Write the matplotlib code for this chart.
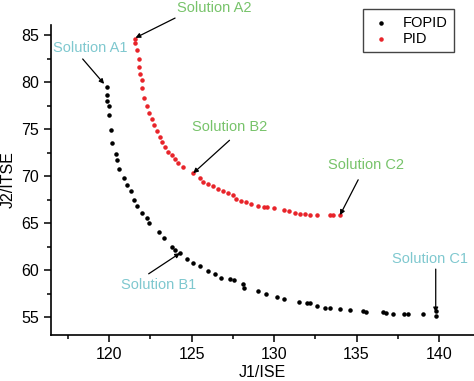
import numpy as np
import matplotlib.pyplot as plt
from matplotlib.ticker import MultipleLocator

plt.rcParams['font.family'] = ['Liberation Sans', 'DejaVu Sans']

# FOPID Pareto front (J1/ISE, J2/ITSE)
fopid_j1 = [119.9, 119.9, 119.9, 120.0, 120.0, 120.1, 120.2, 120.4, 120.5, 120.6,
            120.9, 121.1, 121.3, 121.5, 121.7, 122.0, 122.3, 122.4, 123.0, 123.3,
            123.8, 124.0, 124.3, 124.7, 125.1, 125.5, 126.0, 126.4, 126.8, 127.3,
            127.6, 128.1, 128.2, 129.0, 129.5, 130.2, 130.6, 131.5, 132.0, 132.2,
            132.6, 133.1, 133.4, 134.0, 134.6, 135.4, 135.6, 136.6, 136.8, 137.2,
            137.9, 138.1, 139.0, 139.8, 139.8]
fopid_j2 = [79.5, 78.6, 78.0, 77.4, 76.5, 74.9, 73.5, 72.3, 71.7, 70.7,
            69.8, 69.0, 68.4, 67.4, 66.8, 66.1, 65.5, 65.0, 64.0, 63.4,
            62.5, 62.1, 61.8, 61.2, 60.8, 60.4, 59.9, 59.6, 59.2, 59.0,
            58.9, 58.5, 58.1, 57.8, 57.4, 57.1, 56.9, 56.6, 56.5, 56.5,
            56.2, 56.0, 56.0, 55.9, 55.7, 55.6, 55.5, 55.5, 55.4, 55.3,
            55.3, 55.3, 55.3, 55.6, 55.1]

# PID Pareto front
pid_j1 = [121.6, 121.6, 121.7, 121.8, 121.8, 121.9, 122.0, 122.0, 122.1, 122.3,
          122.4, 122.6, 122.7, 122.9, 123.1, 123.2, 123.4, 123.6, 123.8, 124.0,
          124.2, 124.5, 125.1, 125.5, 125.7, 126.0, 126.3, 126.6, 126.9, 127.2,
          127.5, 127.7, 128.0, 128.3, 128.6, 129.0, 129.4, 129.6, 130.0, 130.6,
          130.9, 131.3, 131.6, 131.9, 132.2, 132.6, 133.4, 133.6, 134.0]
pid_j2 = [84.6, 84.1, 83.4, 82.5, 81.6, 80.9, 80.2, 79.4, 78.3, 77.4,
          76.7, 76.1, 75.4, 74.8, 74.2, 73.6, 73.1, 72.6, 72.2, 71.8,
          71.4, 71.0, 70.3, 69.8, 69.4, 69.1, 68.9, 68.6, 68.4, 68.2,
          68.0, 67.6, 67.3, 67.2, 67.0, 66.8, 66.7, 66.7, 66.6, 66.4,
          66.3, 66.1, 66.0, 66.0, 65.9, 65.9, 65.9, 65.9, 65.9]

# annotations: label, arrow tip, arrow tail, text position, colour
green = '#77c36a'
cyan = '#7fc8cf'
notes = [
    ('Solution A1', (119.7, 79.8), (118.4, 82.45), (118.85, 83.6), cyan),
    ('Solution B1', (124.3, 61.8), (122.4, 59.6), (123.0, 58.4), cyan),
    ('Solution C1', (139.8, 55.5), (139.8, 60.1), (139.45, 61.2), cyan),
    ('Solution A2', (121.6, 84.7), (124.0, 86.8), (126.4, 87.9), green),
    ('Solution B2', (125.1, 70.3), (127.3, 73.8), (127.3, 75.2), green),
    ('Solution C2', (134.0, 65.85), (135.1, 69.6), (135.6, 71.2), green),
]

fig = plt.figure(figsize=(4.74, 3.81), dpi=100)
ax = fig.add_axes([0.1076, 0.1207, 0.8924, 0.8136])

ax.scatter(fopid_j1, fopid_j2, s=5, color='black', label='FOPID', zorder=3)
ax.scatter(pid_j1, pid_j2, s=5, color='#e8242a', label='PID', zorder=3)

for label, tip, tail, pos, c in notes:
    ax.text(pos[0], pos[1], label, color=c, fontsize=10.5,
            ha='center', va='center', clip_on=False)
    ax.annotate('', xy=tip, xytext=tail, annotation_clip=False,
                arrowprops=dict(arrowstyle='-|>', color='black', lw=0.9,
                                mutation_scale=7, shrinkA=0, shrinkB=0))

ax.set_xlim(116.48, 142.12)
ax.set_ylim(53.09, 86.06)
ax.xaxis.set_major_locator(MultipleLocator(5))
ax.xaxis.set_minor_locator(MultipleLocator(2.5))
ax.yaxis.set_major_locator(MultipleLocator(5))
ax.yaxis.set_minor_locator(MultipleLocator(2.5))
ax.tick_params(which='major', direction='out', length=5, width=1.1, labelsize=11.5)
ax.tick_params(which='minor', direction='out', length=3, width=1.1)
for s in ['top', 'right']:
    ax.spines[s].set_visible(False)
for s in ['left', 'bottom']:
    ax.spines[s].set_linewidth(1.2)

ax.set_xlabel('J1/ISE', fontsize=11.5, labelpad=2)
ax.set_ylabel('J2/ITSE', fontsize=11.5, labelpad=4)

leg = ax.legend(loc='upper right', bbox_to_anchor=(454 / 474, 1 - 9 / 381),
                bbox_transform=fig.transFigure, borderaxespad=0, fontsize=10.5,
                markerscale=1.0, handlelength=1.5, handletextpad=0.75,
                borderpad=0.45, labelspacing=0.15, fancybox=False, framealpha=1)
leg.get_frame().set_edgecolor('#444444')
leg.get_frame().set_linewidth(1.0)

fig.savefig('out.png', dpi=100)
